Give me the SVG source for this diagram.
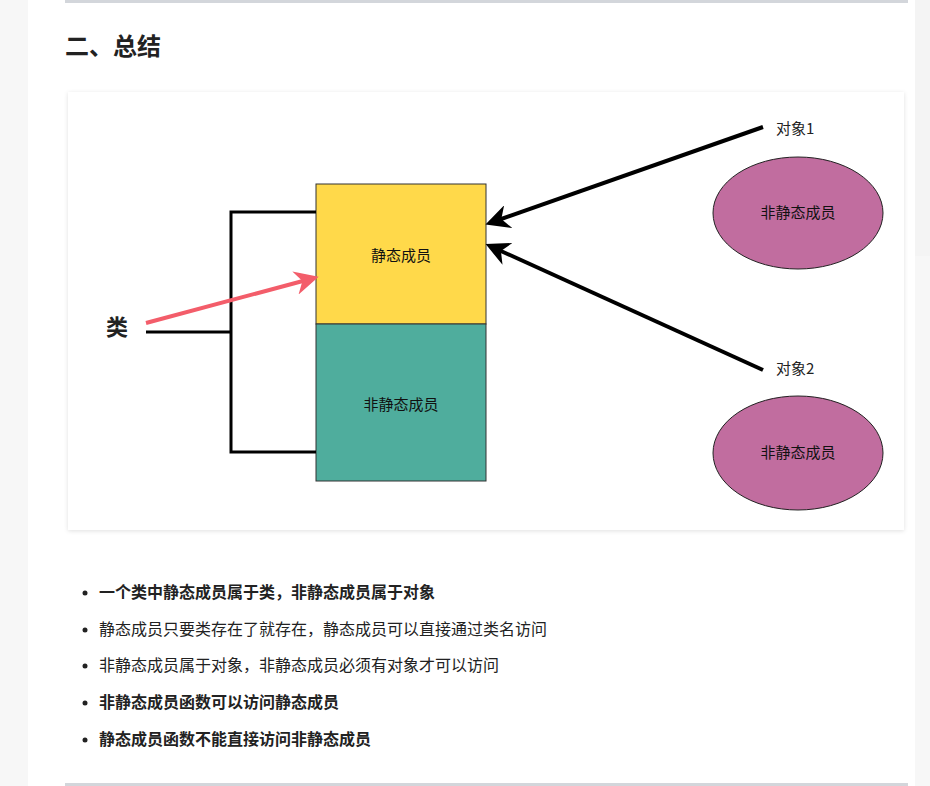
<svg xmlns="http://www.w3.org/2000/svg" width="930" height="786" viewBox="0 0 930 786">
<style>
text{font-family:"Noto Sans CJK SC","Noto Sans",sans-serif;fill:#222}
.lbl{font-size:15px;fill:#111;text-anchor:middle}
.li{font-size:16px}
.b{font-weight:bold}
.ln{stroke:#000;stroke-width:3;fill:none}
</style>
<defs>
<marker id="ab" viewBox="0 0 10 10" refX="8" refY="5" markerWidth="6" markerHeight="6" orient="auto"><path d="M0,0 L10,5 L0,10 L3,5 Z" fill="#000"/></marker>
<marker id="ar" viewBox="0 0 10 10" refX="8" refY="5" markerWidth="6" markerHeight="6" orient="auto"><path d="M0,0 L10,5 L0,10 L3,5 Z" fill="#f35d6a"/></marker>
<filter id="sh" x="-5%" y="-5%" width="110%" height="110%"><feDropShadow dx="0" dy="1" stdDeviation="2" flood-color="#000" flood-opacity="0.12"/></filter>
</defs>
<rect width="930" height="786" fill="#f7f7f7"/>
<rect x="28" y="0" width="887" height="786" fill="#fff"/>
<rect x="915" y="0" width="15" height="256" fill="#f4f4f4"/>
<line x1="65" y1="1.5" x2="908" y2="1.5" stroke="#d3d6db" stroke-width="3"/>
<line x1="65" y1="784.5" x2="908" y2="784.5" stroke="#d3d6db" stroke-width="3"/>
<text x="65" y="55" font-size="24" font-weight="bold">二、总结</text>
<rect x="68" y="92" width="836" height="438" fill="#fff" filter="url(#sh)"/>
<g id="static"><rect x="316" y="184" width="170" height="140" fill="#ffd94a" stroke="#333"/><text class="lbl" x="401" y="261">静态成员</text></g>
<g id="nonstatic"><rect x="316" y="324" width="170" height="157" fill="#4fad9d" stroke="#333"/><text class="lbl" x="401" y="410">非静态成员</text></g>
<g id="cls"><text x="117" y="335" font-size="22" font-weight="bold" text-anchor="middle" fill="#111">类</text></g>
<g id="obj1"><text x="776" y="134" font-size="15" fill="#111">对象1</text><ellipse cx="798" cy="213" rx="85" ry="56" fill="#c16d9f" stroke="#222"/><text class="lbl" x="798" y="218">非静态成员</text></g>
<g id="obj2"><text x="776" y="374" font-size="15" fill="#111">对象2</text><ellipse cx="798" cy="453" rx="85" ry="57" fill="#c16d9f" stroke="#222"/><text class="lbl" x="798" y="458">非静态成员</text></g>
<g id="connectors">
<path class="ln" d="M316,212 H231 V452 H316 M146,332 H231"/>
<line x1="146" y1="323" x2="314" y2="278" stroke="#f35d6a" stroke-width="4" marker-end="url(#ar)"/>
<line x1="763" y1="127" x2="490" y2="223" stroke="#000" stroke-width="4" marker-end="url(#ab)"/>
<line x1="763" y1="370" x2="490" y2="246" stroke="#000" stroke-width="4" marker-end="url(#ab)"/>
</g>
<g fill="#222"><circle cx="85" cy="593" r="2.5"/><circle cx="85" cy="630" r="2.5"/><circle cx="85" cy="666" r="2.5"/><circle cx="85" cy="703" r="2.5"/><circle cx="85" cy="740" r="2.5"/></g>
<text class="li b" x="99" y="598">一个类中静态成员属于类，非静态成员属于对象</text>
<text class="li" x="99" y="635">静态成员只要类存在了就存在，静态成员可以直接通过类名访问</text>
<text class="li" x="99" y="671">非静态成员属于对象，非静态成员必须有对象才可以访问</text>
<text class="li b" x="99" y="708">非静态成员函数可以访问静态成员</text>
<text class="li b" x="99" y="745">静态成员函数不能直接访问非静态成员</text>
</svg>
